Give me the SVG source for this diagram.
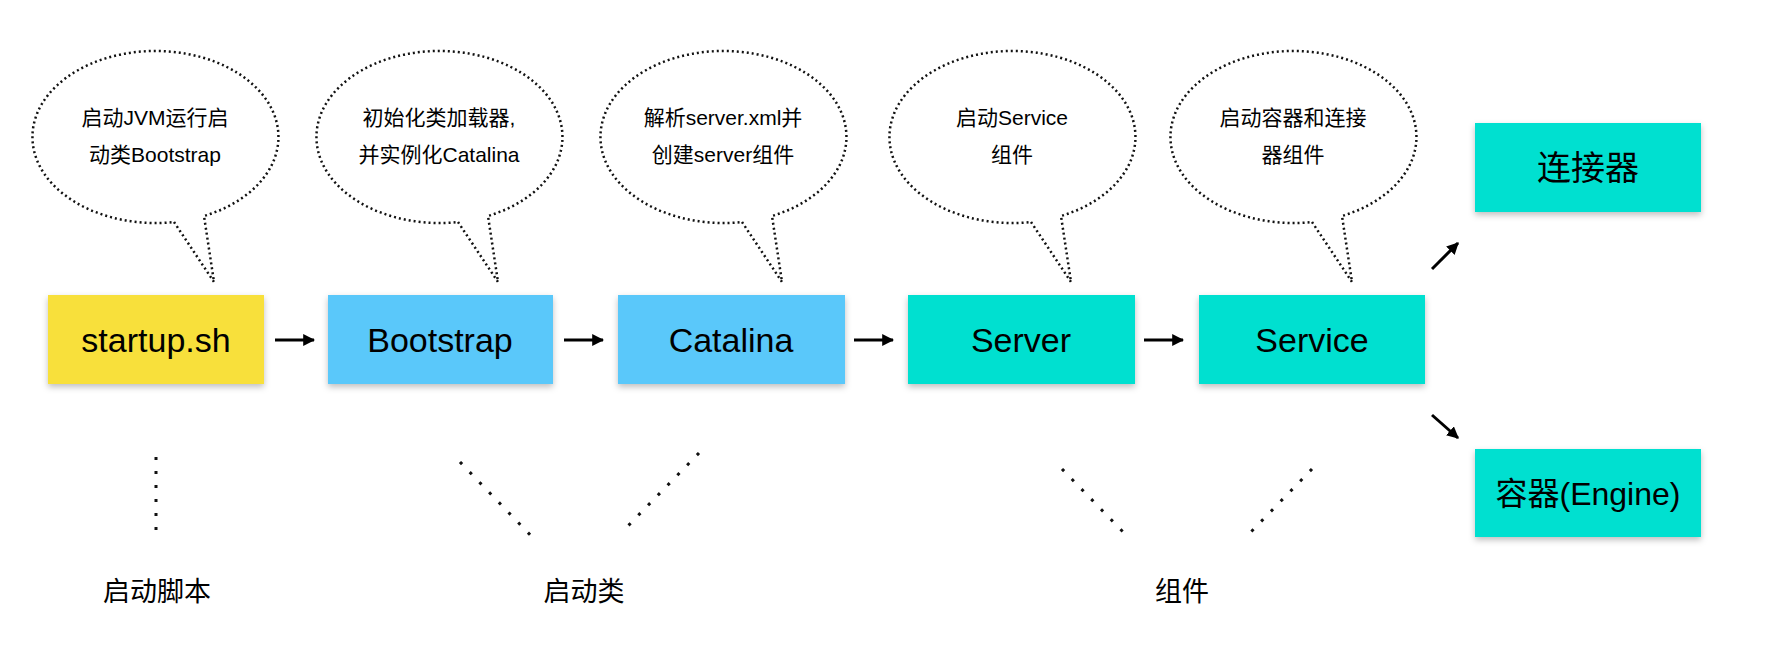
<svg xmlns="http://www.w3.org/2000/svg" width="1788" height="668" viewBox="0 0 1788 668">
<style>
text{font-family:"Liberation Sans","Noto Sans CJK SC",sans-serif;fill:#000;text-anchor:middle}
.bub{fill:none;stroke:#111;stroke-width:2.5;stroke-dasharray:2 3}
.bt{font-size:21px}
.nt{font-size:34px}
.lab{font-size:27px}
.dot{stroke:#111;stroke-width:3;stroke-dasharray:3 11;fill:none}
.ar{stroke:#000;stroke-width:3;marker-end:url(#ah)}
</style>
<defs>
<marker id="ah" viewBox="0 0 10 10" refX="9" refY="5" markerWidth="4" markerHeight="4" orient="auto"><path d="M0,0L10,5L0,10z" fill="#000"/></marker>
<filter id="sh" x="-10%" y="-10%" width="130%" height="140%"><feDropShadow dx="0" dy="3" stdDeviation="3" flood-color="#000" flood-opacity="0.25"/></filter>
</defs>
<g id="bubbles">
<g id="b1"><path class="bub" d="M174,222L214,282L204,216A123 86 0 1 0 174,222"/><text class="bt" x="155" y="125">启动JVM运行启</text><text class="bt" x="155" y="162">动类Bootstrap</text></g>
<g id="b2"><path class="bub" d="M458,222L498,282L488,216A123 86 0 1 0 458,222"/><text class="bt" x="439" y="125">初始化类加载器,</text><text class="bt" x="439" y="162">并实例化Catalina</text></g>
<g id="b3"><path class="bub" d="M742,222L782,282L772,216A123 86 0 1 0 742,222"/><text class="bt" x="723" y="125">解析server.xml并</text><text class="bt" x="723" y="162">创建server组件</text></g>
<g id="b4"><path class="bub" d="M1031,222L1071,282L1061,216A123 86 0 1 0 1031,222"/><text class="bt" x="1012" y="125">启动Service</text><text class="bt" x="1012" y="162">组件</text></g>
<g id="b5"><path class="bub" d="M1312,222L1352,282L1342,216A123 86 0 1 0 1312,222"/><text class="bt" x="1293" y="125">启动容器和连接</text><text class="bt" x="1293" y="162">器组件</text></g>
</g>
<g id="startup"><rect x="48" y="295" width="216" height="89" fill="#F8E03A" filter="url(#sh)"/><text class="nt" x="156" y="352">startup.sh</text></g>
<g id="bootstrap"><rect x="328" y="295" width="225" height="89" fill="#5AC8FA" filter="url(#sh)"/><text class="nt" x="440" y="352">Bootstrap</text></g>
<g id="catalina"><rect x="618" y="295" width="227" height="89" fill="#5AC8FA" filter="url(#sh)"/><text class="nt" x="731" y="352">Catalina</text></g>
<g id="server"><rect x="908" y="295" width="227" height="89" fill="#00E0D0" filter="url(#sh)"/><text class="nt" x="1021" y="352">Server</text></g>
<g id="service"><rect x="1199" y="295" width="226" height="89" fill="#00E0D0" filter="url(#sh)"/><text class="nt" x="1312" y="352">Service</text></g>
<g id="connector"><rect x="1475" y="123" width="226" height="89" fill="#00E0D0" filter="url(#sh)"/><text class="nt" x="1588" y="180">连接器</text></g>
<g id="engine"><rect x="1475" y="449" width="226" height="88" fill="#00E0D0" filter="url(#sh)"/><text class="nt" x="1588" y="505" style="font-size:32px">容器(Engine)</text></g>
<g id="connectors">
<line class="ar" x1="275" y1="340" x2="314" y2="340"/>
<line class="ar" x1="564" y1="340" x2="603" y2="340"/>
<line class="ar" x1="854" y1="340" x2="893" y2="340"/>
<line class="ar" x1="1144" y1="340" x2="1183" y2="340"/>
<line class="ar" x1="1432" y1="269" x2="1458" y2="243"/>
<line class="ar" x1="1432" y1="415" x2="1458" y2="438"/>
</g>
<g id="groups">
<line class="dot" x1="156" y1="457" x2="156" y2="536"/>
<line class="dot" x1="460" y1="462" x2="536" y2="541"/>
<line class="dot" x1="699" y1="453" x2="623" y2="531"/>
<line class="dot" x1="1062" y1="469" x2="1128" y2="537"/>
<line class="dot" x1="1312" y1="469" x2="1246" y2="537"/>
<text class="lab" x="157" y="601">启动脚本</text>
<text class="lab" x="584" y="601">启动类</text>
<text class="lab" x="1182" y="601">组件</text>
</g>
</svg>
